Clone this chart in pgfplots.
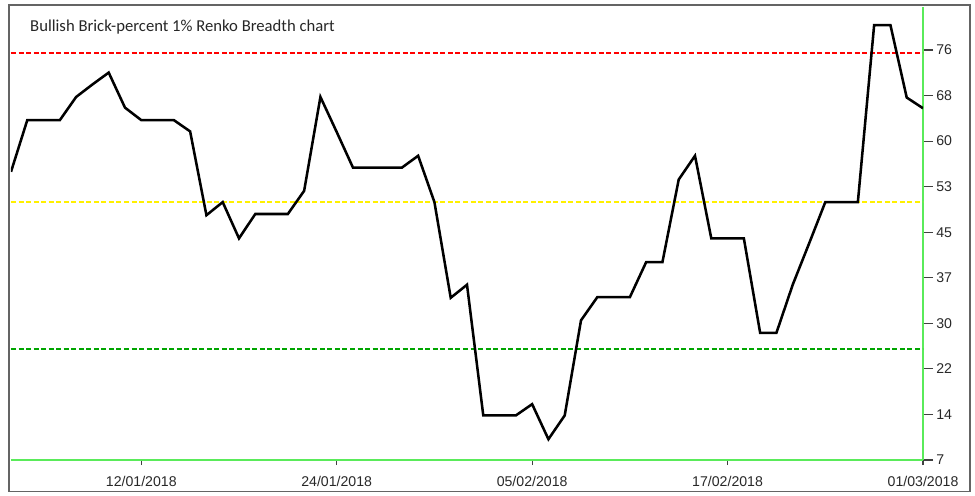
\documentclass[border=0pt]{standalone}
\usepackage{pgfplots}
\pgfplotsset{compat=1.18}
\usepackage{fontspec}
\setmainfont{Liberation Sans}
\newfontfamily\titlefont{Carlito}

\definecolor{axgreen}{RGB}{90,235,90}
\definecolor{lvlred}{RGB}{255,0,0}
\definecolor{lvlgreen}{RGB}{0,165,0}
\definecolor{lvlyellow}{RGB}{255,240,0}
\definecolor{framegray}{RGB}{100,100,100}
\definecolor{ticktext}{RGB}{40,40,40}

\pgfplotstableread{
day breadth
4 55.5
5 64.2
6 64.2
7 64.2
8 68.1
9 70.2
10 72.2
11 66.3
12 64.2
13 64.2
14 64.2
15 62.3
16 48.2
17 50.4
18 44.3
19 48.4
20 48.4
21 48.4
22 52.3
23 68.1
24 62.2
25 56.2
26 56.2
27 56.2
28 56.2
29 58.2
30 50.4
31 34.3
32 36.5
33 14.5
34 14.5
35 14.5
36 16.4
37 10.5
38 14.5
39 30.5
40 34.4
41 34.4
42 34.4
43 40.3
44 40.3
45 54.2
46 58.2
47 44.3
48 44.3
49 44.3
50 28.4
51 28.4
52 36.5
53 43.4
54 50.4
55 50.4
56 50.4
57 80.2
58 80.2
59 68.0
60 66.2
}\breadth

\pgfplotstableread{
day red yellow green
4 75.45 50.4 25.6
60 75.45 50.4 25.6
}\levels

\begin{document}
\begin{tikzpicture}
  \begin{axis}[
    scale only axis,
    width=684pt, height=339.75pt,
    xmin=4, xmax=60,
    ymin=7, ymax=83.24,
    axis x line=bottom,
    axis y line=right,
    axis line style={axgreen, line width=1.1pt, -},
    tick align=outside,
    major tick length=7.5pt,
    tick style={black!75, line width=0.8pt},
    xtick style={/pgfplots/major tick length=3.75pt},
    xtick={12,24,36,48,60},
    xticklabels={12/01/2018, 24/01/2018, 05/02/2018, 17/02/2018, 01/03/2018},
    ytick={7,14.6667,22.3333,30,37.6667,45.3333,53,60.6667,68.3333,76},
    yticklabels={7,14,22,30,37,45,53,60,68,76},
    ticklabel style={font=\fontsize{10.6}{12}\selectfont, text=ticktext},
    /pgf/number format/assume math mode=true,
    xticklabel style={yshift=-1pt},
    yticklabel style={xshift=-1pt},
    every axis plot/.append style={no marks},
    after end axis/.code={
      \path (rel axis cs:-0.01206,-0.07726) rectangle (rel axis cs:1.05702,1.01545);
      \draw[color=framegray, line width=1.1pt] (rel axis cs:-0.0022,-0.0700) rectangle (rel axis cs:1.0515,1.0044);
      \node[anchor=west, inner sep=0pt, font=\titlefont\fontsize{12.5}{14}\selectfont, text=black!85]
        at (rel axis cs:0.0208,0.956) {Bullish Brick-percent 1\% Renko Breadth chart};
    },
  ]
    \addplot[color=lvlred, dash pattern=on 3.75pt off 1.9pt, line width=1.2pt] table[x=day, y=red] {\levels};
    \addplot[color=lvlyellow, dash pattern=on 3.75pt off 1.9pt, line width=1.2pt] table[x=day, y=yellow] {\levels};
    \addplot[color=lvlgreen, dash pattern=on 3.75pt off 1.9pt, line width=1.5pt] table[x=day, y=green] {\levels};

    \addplot[color=black, line width=1.9pt] table[x=day, y=breadth] {\breadth};
  \end{axis}
\end{tikzpicture}
\end{document}
